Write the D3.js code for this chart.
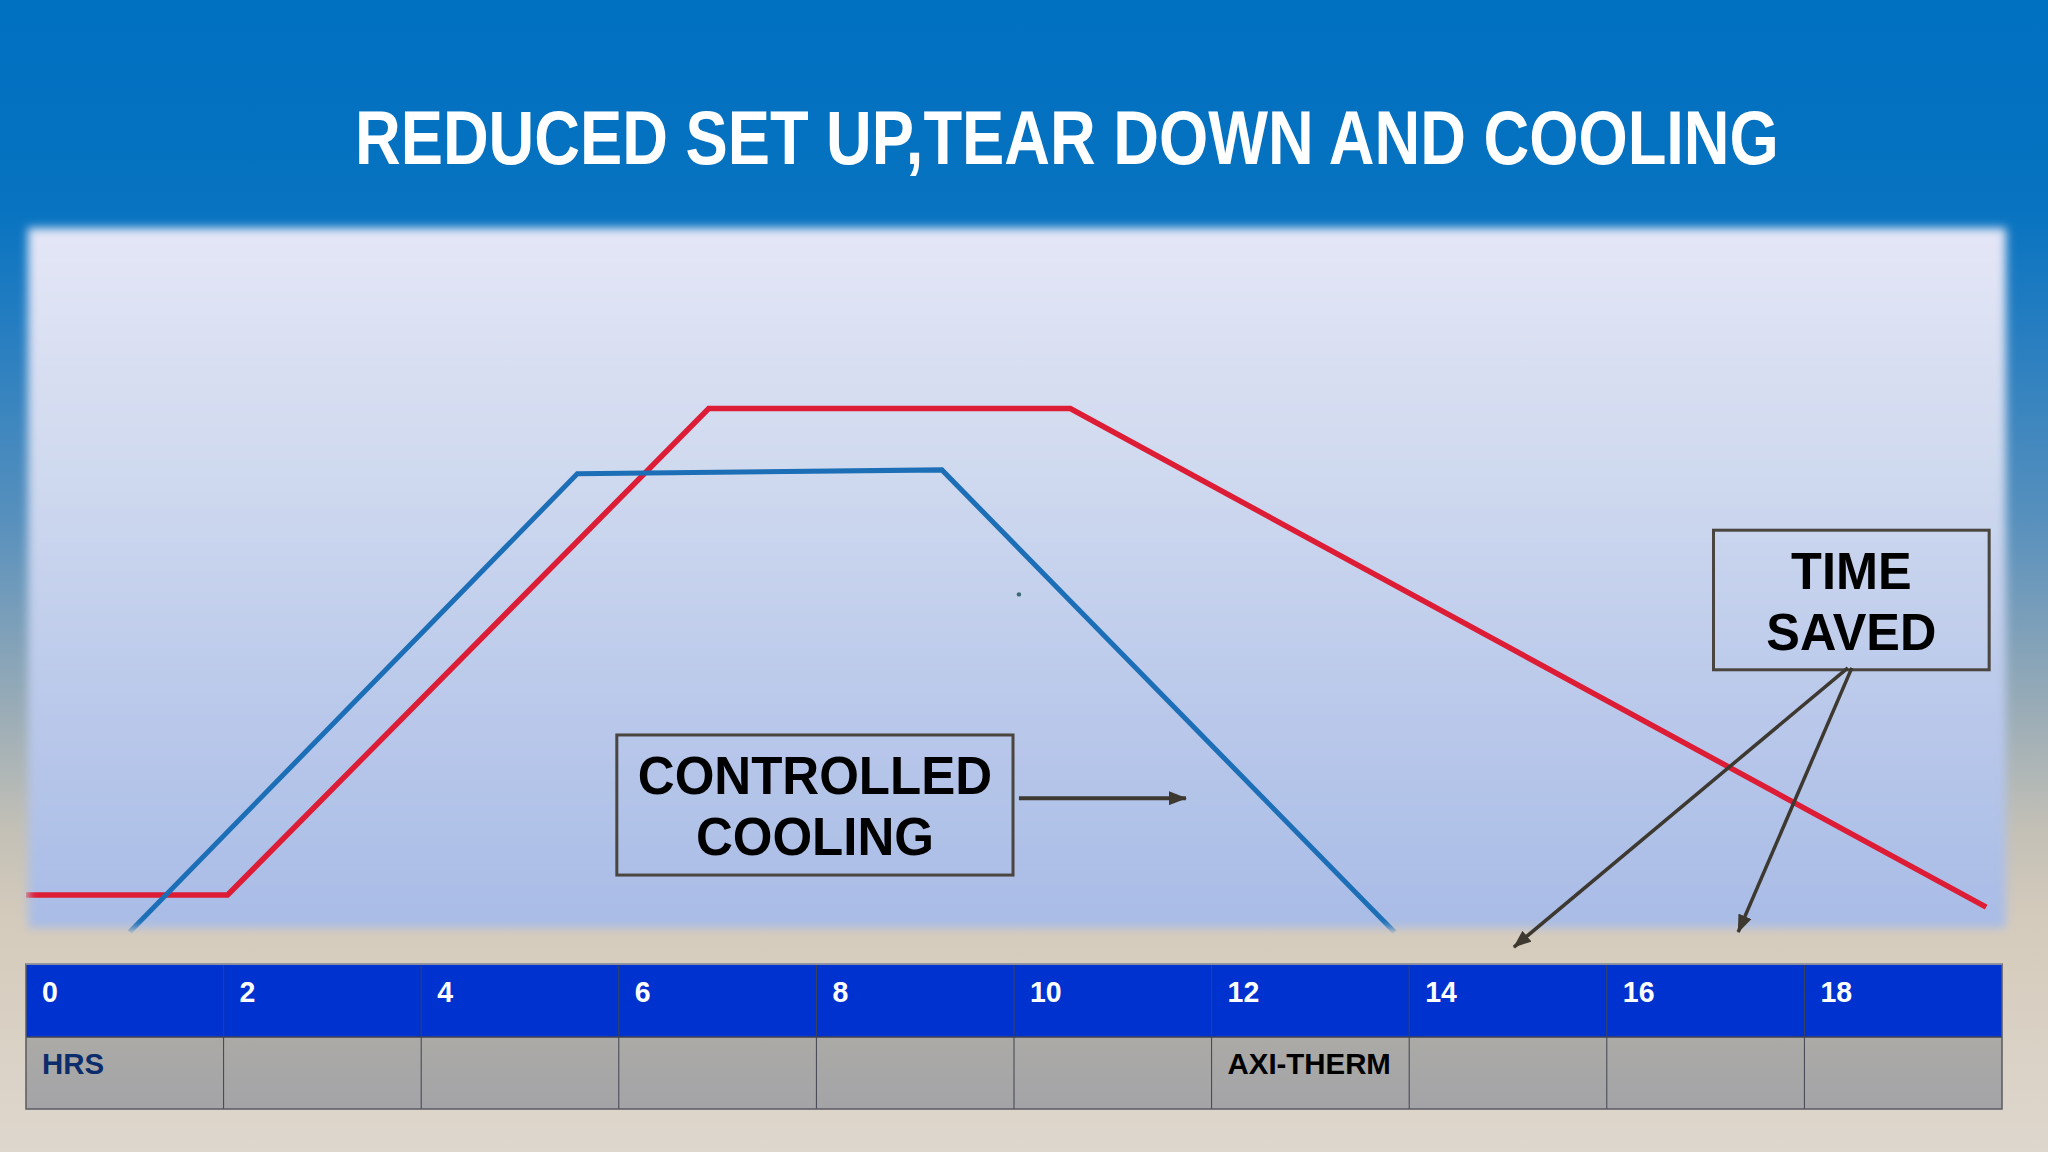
<!DOCTYPE html>
<html>
<head>
<meta charset="utf-8">
<script src="https://cdn.jsdelivr.net/npm/d3@7"></script>
<style>
  html, body { margin: 0; padding: 0; background: #ddd6cc; }
  svg { display: block; }
</style>
</head>
<body>
<svg id="chart" width="2048" height="1152"></svg>
<script>
// ---------- data ----------
const title = "REDUCED SET UP,TEAR DOWN AND COOLING";
const hourTicks = [0, 2, 4, 6, 8, 10, 12, 14, 16, 18];
const rowLabels = ["HRS", "", "", "", "", "", "AXI-THERM", "", "", ""];
// conventional process (red): hours / relative temperature
const redHours = [0, 2.04, 6.91, 10.57, 19.84];
const redTemps = [0, 0, 100, 100, -2.5];
// Axi-Therm process (blue)
const blueHours = [1.05, 5.58, 9.27, 13.85];
const blueTemps = [-7.6, 86.6, 87.4, -7.6];
// annotation boxes (data coords: hours / temperature)
const boxLabels = [["CONTROLLED", "COOLING"], ["TIME", "SAVED"]];
const boxHours = [[5.98, 9.99], [17.08, 19.87]];
const boxTemps = [[32.9, 4.1], [75.0, 46.3]];
// arrows [x0, y0, x1, y1] in data coords
const arrowFrom = [[10.05, 19.9], [18.44, 46.7], [18.48, 46.7]];
const arrowTo = [[11.74, 19.9], [15.06, -10.7], [17.33, -7.6]];

// ---------- setup ----------
const W = 2048, H = 1152;
const svg = d3.select("#chart");
const x = d3.scaleLinear().domain([0, 20]).range([26, 2002]);
const y = d3.scaleLinear().domain([0, 100]).range([895, 408.6]);
const defs = svg.append("defs");

// background gradient
const bg = defs.append("linearGradient").attr("id", "bg").attr("x1", 0).attr("y1", 0).attr("x2", 0).attr("y2", 1);
[[0, "#0070c0"], [0.18, "#0773c1"], [0.3, "#2a7fc0"], [0.45, "#5790bd"], [0.6, "#93a9b7"], [0.72, "#c3c0b6"], [0.8, "#d5cbbc"], [1, "#ded7cd"]]
  .forEach(([o, c]) => bg.append("stop").attr("offset", o).attr("stop-color", c));

// panel gradient
const pg = defs.append("linearGradient").attr("id", "panel").attr("x1", 0).attr("y1", 0).attr("x2", 0).attr("y2", 1);
[[0, "#e4e6f6"], [0.35, "#cfd9ef"], [0.7, "#b9c8ea"], [1, "#a9bce6"]]
  .forEach(([o, c]) => pg.append("stop").attr("offset", o).attr("stop-color", c));

const blur = defs.append("filter").attr("id", "blur").attr("x", "-5%").attr("y", "-5%").attr("width", "110%").attr("height", "110%");
blur.append("feGaussianBlur").attr("stdDeviation", 5);

const gg = defs.append("linearGradient").attr("id", "grey").attr("x1", 0).attr("y1", 0).attr("x2", 0).attr("y2", 1);
gg.append("stop").attr("offset", 0).attr("stop-color", "#abaaa6");
gg.append("stop").attr("offset", 1).attr("stop-color", "#a4a4a8");

const panelX0 = 28, panelX1 = 2006, panelY0 = 228, panelY1 = 928;
const mask = defs.append("mask").attr("id", "pmask").attr("maskUnits", "userSpaceOnUse")
  .attr("x", 0).attr("y", 0).attr("width", W).attr("height", H);
mask.append("rect").attr("x", panelX0).attr("y", panelY0).attr("width", panelX1 - panelX0)
  .attr("height", panelY1 - panelY0).attr("fill", "#fff").attr("filter", "url(#blur)");

const marker = defs.append("marker").attr("id", "arrow").attr("markerUnits", "userSpaceOnUse")
  .attr("viewBox", "0 0 18 14").attr("refX", 17).attr("refY", 7)
  .attr("markerWidth", 18).attr("markerHeight", 14).attr("orient", "auto");
marker.append("path").attr("d", "M0,0 L18,7 L0,14 Z").attr("fill", "#3d3830");

// background
svg.append("rect").attr("width", W).attr("height", H).attr("fill", "url(#bg)");
svg.append("rect").attr("x", panelX0).attr("y", panelY0).attr("width", panelX1 - panelX0)
  .attr("height", panelY1 - panelY0).attr("fill", "url(#panel)").attr("filter", "url(#blur)");

// title (narrow bold): horizontally scaled to the reference width
const titleEl = svg.append("text").text(title)
  .attr("font-family", "'Liberation Sans', Arial, sans-serif")
  .attr("font-weight", "bold").attr("font-size", 76).attr("fill", "#ffffff");
const natural = titleEl.node().getComputedTextLength() || 1723;
titleEl.attr("transform", `translate(355,164) scale(${1424 / natural},1)`);

// lines
const line = d3.line().x(d => x(d[0])).y(d => y(d[1]));
const lines = svg.append("g").attr("mask", "url(#pmask)");
lines.append("path").datum(redHours.map((h, i) => [h, redTemps[i]])).attr("d", line)
  .attr("fill", "none").attr("stroke", "#dd1c35").attr("stroke-width", 5.5).attr("stroke-linejoin", "miter");
lines.append("path").datum(blueHours.map((h, i) => [h, blueTemps[i]])).attr("d", line)
  .attr("fill", "none").attr("stroke", "#1c6fb6").attr("stroke-width", 5).attr("stroke-linejoin", "miter");
lines.append("circle").attr("cx", x(10.05)).attr("cy", y(61.8)).attr("r", 2.2).attr("fill", "#3a6a70");

// annotation boxes
const font = "'Liberation Sans', Arial, Helvetica, sans-serif";
boxLabels.forEach((lbl, i) => {
  const x0 = x(boxHours[i][0]), x1 = x(boxHours[i][1]);
  const y0 = y(boxTemps[i][0]), y1 = y(boxTemps[i][1]);
  svg.append("rect").attr("x", x0).attr("y", y0).attr("width", x1 - x0).attr("height", y1 - y0)
    .attr("fill", "none").attr("stroke", "#4a453f").attr("stroke-width", 3);
  const cx = (x0 + x1) / 2, cy = (y0 + y1) / 2;
  lbl.forEach((t, j) => {
    svg.append("text").attr("transform", `translate(${cx},${cy - 11 + j * 61}) scale(${i === 0 ? 0.945 : 0.97},1)`).text(t)
      .attr("text-anchor", "middle").attr("font-family", font).attr("font-weight", "bold")
      .attr("font-size", i === 0 ? 54 : 52).attr("fill", "#000");
  });
});

// arrows
arrowFrom.forEach((f, i) => {
  svg.append("line").attr("x1", x(f[0])).attr("y1", y(f[1]))
    .attr("x2", x(arrowTo[i][0])).attr("y2", y(arrowTo[i][1]))
    .attr("stroke", "#3d3830").attr("stroke-width", i === 0 ? 4 : 3.5).attr("marker-end", "url(#arrow)");
});

// table
const tTop = 964, tMid = 1037, tBot = 1109;
const step = x(2) - x(0);
const table = svg.append("g");
table.append("rect").attr("x", x(0)).attr("y", tTop).attr("width", step * hourTicks.length).attr("height", tMid - tTop)
  .attr("fill", "#0032cf");
table.append("rect").attr("x", x(0)).attr("y", tMid).attr("width", step * hourTicks.length).attr("height", tBot - tMid)
  .attr("fill", "url(#grey)");
hourTicks.forEach((h, i) => {
  const cx = x(h);
  if (i > 0) table.append("line").attr("x1", cx).attr("x2", cx).attr("y1", tTop).attr("y2", tBot)
    .attr("stroke", "#3f4350").attr("stroke-width", 1);
  table.append("text").attr("transform", `translate(${cx + 16},1002) scale(0.95,1)`).text(h)
    .attr("font-family", font).attr("font-weight", "bold").attr("font-size", 30).attr("fill", "#fff");
  if (rowLabels[i]) table.append("text").attr("transform", `translate(${cx + 16},1074) scale(0.98,1)`).text(rowLabels[i])
    .attr("font-family", font).attr("font-weight", "bold").attr("font-size", 30)
    .attr("fill", i === 0 ? "#0d2c6c" : "#000");
});
table.append("line").attr("x1", x(0)).attr("x2", x(0) + step * 10).attr("y1", tMid).attr("y2", tMid)
  .attr("stroke", "#3f4350").attr("stroke-width", 1.5);
table.append("rect").attr("x", x(0)).attr("y", tTop).attr("width", step * hourTicks.length).attr("height", tBot - tTop)
  .attr("fill", "none").attr("stroke", "#5a5a60").attr("stroke-width", 1.5);
table.append("line").attr("x1", x(0)).attr("x2", x(0) + step * 10).attr("y1", tTop).attr("y2", tTop)
  .attr("stroke", "#9aa0b0").attr("stroke-width", 1.5);
</script>
</body>
</html>
